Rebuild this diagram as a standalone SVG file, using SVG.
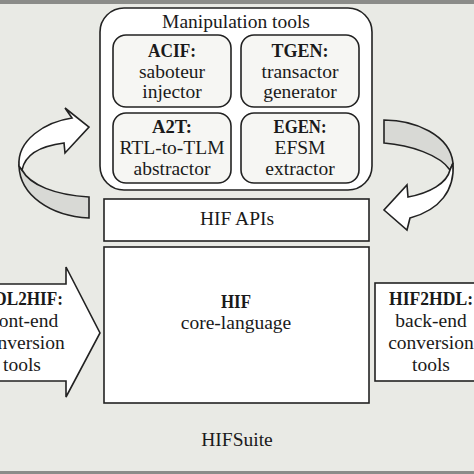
<svg xmlns="http://www.w3.org/2000/svg" width="474" height="474" viewBox="0 0 474 474">
<style>
.bg{fill:#e9eae5}
.band{fill:#8b8c89}
.box{stroke:#222;stroke-width:1.6}
.t{font-family:"Liberation Serif","Times New Roman",serif;font-size:19.5px;fill:#1a1a1a;text-anchor:middle}
.b{font-weight:bold}
.white{fill:#ffffff}
.inner{fill:#f6f6f3}
.gray{fill:#d8d9d5}
</style>
<rect class="bg" x="0" y="0" width="474" height="474"/>
<rect class="band" x="0" y="0" width="474" height="4"/>
<rect class="band" x="0" y="471" width="474" height="3"/>

<g id="manipulation-tools">
<rect class="box white" x="100" y="8" width="272" height="182" rx="24"/>
<text class="t" x="236" y="28">Manipulation tools</text>
</g>
<g id="acif">
<rect class="box inner" x="113" y="35" width="118" height="72" rx="13"/>
<text class="t b" x="172" y="57" textLength="48" lengthAdjust="spacingAndGlyphs">ACIF:</text>
<text class="t" x="172" y="77.5">saboteur</text>
<text class="t" x="172" y="98">injector</text>
</g>
<g id="tgen">
<rect class="box inner" x="241" y="35" width="118" height="72" rx="13"/>
<text class="t b" x="300" y="57" textLength="57" lengthAdjust="spacingAndGlyphs">TGEN:</text>
<text class="t" x="300" y="77.5">transactor</text>
<text class="t" x="300" y="98">generator</text>
</g>
<g id="a2t">
<rect class="box inner" x="113" y="113" width="118" height="70" rx="13"/>
<text class="t b" x="172" y="133" textLength="40" lengthAdjust="spacingAndGlyphs">A2T:</text>
<text class="t" x="172" y="154">RTL-to-TLM</text>
<text class="t" x="172" y="175">abstractor</text>
</g>
<g id="egen">
<rect class="box inner" x="241" y="113" width="118" height="70" rx="13"/>
<text class="t b" x="300" y="133" textLength="53" lengthAdjust="spacingAndGlyphs">EGEN:</text>
<text class="t" x="300" y="154">EFSM</text>
<text class="t" x="300" y="175">extractor</text>
</g>
<g id="hif-apis">
<rect class="box white" x="104" y="199" width="265" height="42"/>
<text class="t" x="237" y="225">HIF APIs</text>
</g>
<g id="hif">
<rect class="box white" x="104" y="247" width="265" height="156"/>
<text class="t b" x="236" y="308" textLength="30" lengthAdjust="spacingAndGlyphs">HIF</text>
<text class="t" x="236" y="329">core-language</text>
</g>
<g id="hdl2hif">
<polygon class="box white" points="-5,284 66,284 66,267 100,333 66,397 66,381 -5,381"/>
<text class="t b" x="22" y="305" textLength="82" lengthAdjust="spacingAndGlyphs">HDL2HIF:</text>
<text class="t" x="22" y="327">front-end</text>
<text class="t" x="22" y="349">conversion</text>
<text class="t" x="22" y="371">tools</text>
</g>
<g id="hif2hdl">
<rect class="box white" x="375" y="283" width="110" height="98"/>
<text class="t b" x="431" y="305" textLength="84" lengthAdjust="spacingAndGlyphs">HIF2HDL:</text>
<text class="t" x="431" y="327">back-end</text>
<text class="t" x="431" y="349">conversion</text>
<text class="t" x="431" y="371">tools</text>
</g>
<g id="hifsuite">
<text class="t" x="237" y="446">HIFSuite</text>
</g>
<g id="connectors">
<path class="box gray" d="M19,166 C20,195 50,216 89,218 L89,197 C55,195 30,185 22,170 Z"/>
<path class="box white" d="M19,166 C17,140 45,122 72,118 L65,108 L89,127 L65,153 L64,143 C40,146 25,155 22,170 Z"/>
<path class="box gray" d="M384,120 C415,120 450,135 453,163 L450,170 C440,155 410,145 384,143 Z"/>
<path class="box white" d="M453,163 C455,190 440,210 410,218 L407,230 L384,210 L407,185 L408,197 C430,193 447,183 450,170 Z"/>
</g>
</svg>
